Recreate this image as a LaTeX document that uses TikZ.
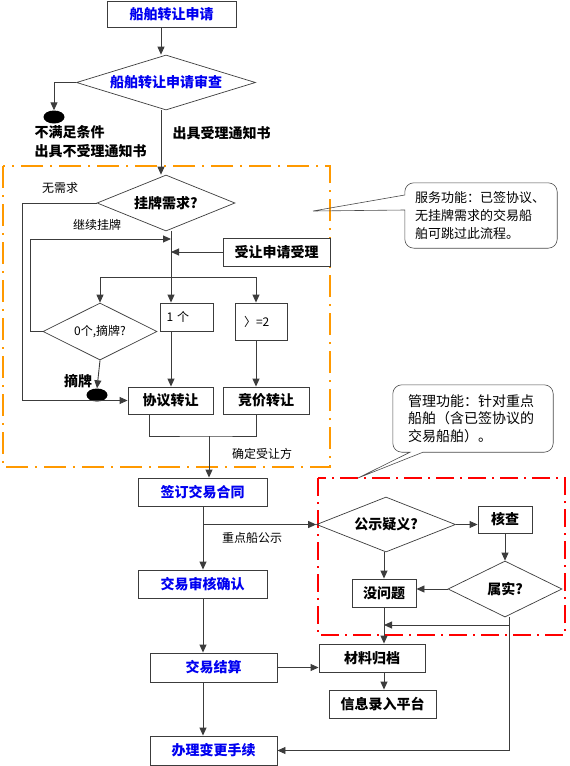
\documentclass[tikz,border=0pt]{standalone}
\usepackage{fontspec}
\setmainfont{Noto Sans CJK SC}
\usetikzlibrary{shapes.geometric,arrows.meta}
\definecolor{flowblue}{RGB}{0,0,240}
\definecolor{svcorange}{RGB}{255,153,0}
\definecolor{mgtred}{RGB}{255,0,0}
\definecolor{edge}{RGB}{60,60,60}

\begin{document}
\begin{tikzpicture}[x=1pt,y=-1pt,
    box/.style={draw=edge,line width=0.9pt,fill=white,inner sep=0pt,font=\fontsize{14}{16}\selectfont\bfseries},
    bluebox/.style={box,text=flowblue},
    choice/.style={diamond,draw=edge,line width=0.7pt,inner sep=0pt,font=\fontsize{14}{16}\selectfont\bfseries},
    stop/.style={ellipse,fill=black,minimum width=21pt,minimum height=13pt,inner sep=0pt},
    arr/.style={-{Triangle[length=8pt,width=7pt]},draw=edge,line width=0.9pt},
    ln/.style={draw=edge,line width=0.9pt},
    note/.style={font=\fontsize{12}{14}\selectfont},
    tag/.style={font=\fontsize{14}{16}\selectfont\bfseries},
    memo/.style={align=left,inner sep=0pt},
    memoline/.style={draw=black!70,line width=0.6pt}]
    \useasboundingbox[fill=white] (0,0) rectangle (570,766);
    \coordinate (c1) at (161,0);
    \coordinate (c2) at (171,0);
    \coordinate (c3) at (256,0);
    \coordinate (c4) at (203,0);
    \coordinate (c5) at (509,0);
    \coordinate (c6) at (384,0);

    \draw[svcorange,line width=2.5pt,dash pattern=on 22pt off 7pt on 2pt off 7pt] (3,166) rectangle (330,467);
    \draw[mgtred,line width=2pt,dash pattern=on 18pt off 6pt on 2pt off 6pt] (318,478) rectangle (565,635);

    \node[bluebox,minimum width=129pt,minimum height=26pt] (apply) at (171.5,14) {船舶转让申请};
    \node[choice,text=flowblue,minimum width=179pt,minimum height=55pt,aspect=3.25] (review) at (166,82.5) {船舶转让申请审查};
    \node[stop] (quit) at (54,117) {};
    \node[tag,anchor=west] (nocond) at (31,132) {不满足条件};
    \node[tag,anchor=west] (refuse) at (31,151) {出具不受理通知书};
    \node[tag,anchor=west] (notice) at (169,133) {出具受理通知书};

    \node[choice,minimum width=138pt,minimum height=56pt,aspect=2.46] (need) at (166,203) {挂牌需求?};
    \node[note] (noneed) at (60,188) {无需求};
    \node[note] (keep) at (97,225) {继续挂牌};
    \node[box,minimum width=107pt,minimum height=28pt] (accept) at (276.5,252) {受让申请受理};
    \node[choice,font=\fontsize{12}{14}\selectfont,minimum width=114pt,minimum height=57pt,aspect=2] (zero) at (100,331.5) {0个,摘牌?};
    \node[box,font=\fontsize{12}{14}\selectfont,align=left,text width=40pt,minimum width=53pt,minimum height=28pt] (one) at (186.5,317) {1 个};
    \node[box,font=\fontsize{12}{14}\selectfont,align=left,text width=34pt,minimum width=52pt,minimum height=37pt] (ge2) at (261,321.5) {〉=2};
    \node[stop] (delist) at (97,395) {};
    \node[tag] (delisttxt) at (78,381) {摘牌};
    \node[box,minimum width=85pt,minimum height=27pt] (deal) at (170.5,400.5) {协议转让};
    \node[box,minimum width=86pt,minimum height=27pt] (bid) at (266,400.5) {竞价转让};
    \node[note] (buyer) at (262,454) {确定受让方};

    \node[bluebox,minimum width=129pt,minimum height=28pt] (sign) at (202.5,492) {签订交易合同};
    \node[note] (publish) at (252,538) {重点船公示};
    \node[bluebox,minimum width=129pt,minimum height=28pt] (audit) at (202.5,584) {交易审核确认};
    \node[bluebox,minimum width=127pt,minimum height=29pt] (settle) at (213.5,667.5) {交易结算};
    \node[bluebox,minimum width=127pt,minimum height=29pt] (change) at (213.5,750.5) {办理变更手续};

    \node[choice,minimum width=139pt,minimum height=55pt,aspect=2.5] (doubt) at (386,524.5) {公示疑义?};
    \node[box,minimum width=54pt,minimum height=27pt] (verify) at (505,519.5) {核查};
    \node[choice,minimum width=114pt,minimum height=56pt,aspect=2] (true) at (505,589) {属实?};
    \node[box,minimum width=64pt,minimum height=28pt] (fine) at (384,593) {没问题};
    \node[box,minimum width=106pt,minimum height=28pt] (file) at (372,658) {材料归档};
    \node[box,minimum width=107pt,minimum height=28pt] (entry) at (382.5,704) {信息录入平台};

    \node[memo,font=\fontsize{13}{18}\selectfont,minimum width=152pt,minimum height=65pt,text width=132pt] (svc) at (481,215.5) {服务功能：已签协议、\\无挂牌需求的交易船\\舶可跳过此流程。};
    \draw[memoline] (313,211) -- ([yshift=20.5pt]svc.west) [rounded corners=9pt] -- (svc.north west) -- (svc.north east) -- (svc.south east) -- (svc.south west) [sharp corners] -- ([yshift=5.5pt]svc.west) -- cycle;
    \node[memo,font=\fontsize{14}{17.5}\selectfont,minimum width=160pt,minimum height=67pt,text width=130pt] (mgt) at (473,418.5) {管理功能：针对重点\\船舶（含已签协议的\\交易船舶）。};
    \draw[memoline] (358,478) -- ([xshift=-50pt]mgt.south) [rounded corners=9pt] -- (mgt.south east) -- (mgt.north east) -- (mgt.north west) -- (mgt.south west) [sharp corners] -- ([xshift=-63pt]mgt.south) -- cycle;

    \draw[arr] (apply.south -| c1) -- (review.north -| c1);
    \draw[arr] (review.west) -| (quit.north);
    \draw[arr] (review.south -| c1) -- (need.north -| c1);
    \draw[arr] (need.west) -- ++(-74,0) |- (deal.west);
    \draw[arr] (need.south -| c2) -- (one.north -| c2);
    \coordinate (loopin) at (171,239);
    \draw[arr] (zero.west) -- ++(-12,0) |- (loopin);
    \draw[arr] (accept.west) -- (accept.west -| c2);
    \coordinate (fork) at (171,277);
    \draw[arr] (fork) -| (zero.north);
    \draw[arr] (fork) -| (c3 |- ge2.north);
    \draw[arr] (one.south -| c2) -- (deal.north -| c2);
    \draw[arr] (ge2.south -| c3) -- (bid.north -| c3);
    \draw[arr] (zero.south) -- (delist.north);
    \coordinate (join) at (209,436);
    \draw[ln] ([xshift=-21.5pt]deal.south) |- (join) -| ([xshift=-10pt]bid.south);
    \draw[arr] (join) -- (join |- sign.north);

    \draw[arr] (sign.south -| c4) -- (audit.north -| c4);
    \draw[arr] (c4 |- doubt.west) -- (doubt.west);
    \draw[arr] (doubt.east) -- (doubt.east -| verify.west);
    \draw[arr] (verify.south) -- (true.north);
    \draw[arr] (true.west) -- (true.west -| fine.east);
    \draw[arr] (doubt.south -| c6) -- (fine.north -| c6);
    \draw[arr] (fine.south -| c6) -- (file.north -| c6);
    \coordinate (back) at (509,625);
    \draw[ln] (true.south -| c5) -- (back);
    \draw[arr] (back) -- (back -| c6);
    \draw[arr] (back) |- (change.east);
    \draw[arr] (audit.south -| c4) -- (settle.north -| c4);
    \draw[arr] (settle.south -| c4) -- (change.north -| c4);
    \draw[arr] (settle.east) -- (settle.east -| file.west);
    \draw[arr] (file.south -| c6) -- (entry.north -| c6);
\end{tikzpicture}
\end{document}
